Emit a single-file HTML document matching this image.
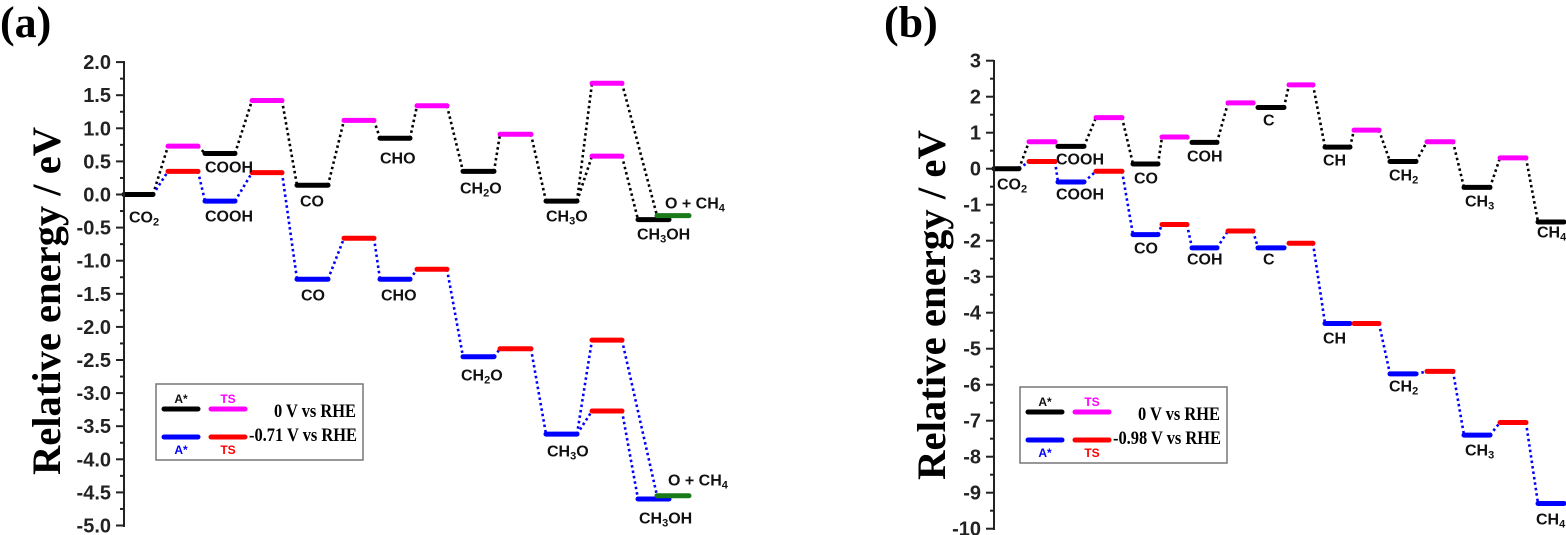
<!DOCTYPE html>
<html><head><meta charset="utf-8"><style>
html,body{margin:0;padding:0;background:#fff;width:1566px;height:535px;overflow:hidden}
svg{display:block}
.tk{font-family:"Liberation Sans",sans-serif;font-weight:bold;font-size:20px;fill:#222}
.lb{font-family:"Liberation Sans",sans-serif;font-weight:bold;font-size:16px;fill:#111}
.ser{font-family:"Liberation Serif",serif;font-weight:bold}
</style></head><body>
<svg id="s" width="1566" height="535" xmlns="http://www.w3.org/2000/svg"></svg>
<script>
const S=document.getElementById('s');let h='';
const ya=v=>194.5-66.2*v, yb=v=>168.7-36*v;
function bar(x1,x2,y,c){h+=`<line x1="${x1}" y1="${y}" x2="${x2}" y2="${y}" stroke="${c}" stroke-width="5" stroke-linecap="round"/>`;}
function dot(x1,y1,x2,y2,c){h+=`<line x1="${x1}" y1="${y1}" x2="${x2}" y2="${y2}" stroke="${c}" stroke-width="2.6" stroke-dasharray="2.5 3"/>`;}
function txt(x,y,t,cls,extra){h+=`<text x="${x}" y="${y}" class="${cls}" ${extra||''}>${t}</text>`;}
function lab(x,cy,t){h+=`<text x="${x}" y="${cy+5.5}" class="lb">${t}</text>`;}
function chain(arr,Y,lc){for(let i=0;i<arr.length-1;i++){dot(arr[i][1],Y(arr[i][2]),arr[i+1][0],Y(arr[i+1][2]),lc);}}
function drawBars(arr,Y){arr.forEach(a=>bar(a[0],a[1],Y(a[2]),a[3]));}
const K='#000',M='#ff00ff',B='#0000ff',R='#ff0000',G='#1a7a1a';
const ax=[[124,153],[168,198],[205,235],[252,282],[297,328],[344,374],[380,410],[417,447],[463,494],[500,531],[546,577]];
const bv=[0,.73,.62,1.42,.14,1.12,.85,1.34,.35,.91,-.1];
const rv=[0,.35,-.1,.33,-1.28,-.66,-1.28,-1.13,-2.45,-2.33,-3.62];
const A1=ax.map((x,i)=>[x[0],x[1],bv[i],i%2?M:K]);
const A2=ax.map((x,i)=>[x[0],x[1],rv[i],i%2?R:B]);
chain(A1,ya,K);chain(A2,ya,B);
dot(577,ya(-.1),592,ya(1.68),K);dot(577,ya(-.1),592,ya(.58),K);
dot(622,ya(1.68),657,ya(-.32),K);dot(622,ya(.58),638,ya(-.38),K);
dot(577,ya(-3.62),592,ya(-2.2),B);dot(577,ya(-3.62),592,ya(-3.27),B);
dot(622,ya(-2.2),657,ya(-4.55),B);dot(622,ya(-3.27),638,ya(-4.6),B);
drawBars(A1.slice(1),ya);drawBars(A2.slice(1),ya);bar(124,153,ya(0),K);
bar(592,622,ya(1.68),M);bar(592,622,ya(.58),M);bar(638,669,ya(-.38),K);bar(657,689,ya(-.32),G);
bar(592,622,ya(-2.2),R);bar(592,622,ya(-3.27),R);bar(638,669,ya(-4.6),B);bar(657,689,ya(-4.55),G);
h+=`<line x1="124" y1="61" x2="124" y2="527" stroke="#222" stroke-width="2"/>`;
for(let i=0;i<=28;i++){const v=2-i*0.25,y=ya(v);const maj=i%2==0;h+=`<line x1="${maj?116:120}" y1="${y}" x2="124" y2="${y}" stroke="#222" stroke-width="2"/>`;
 if(maj)txt(111,y+7,v.toFixed(1),'tk','text-anchor="end"');}
const sub=(a,n,rest)=>`${a}<tspan font-size="11" dy="3">${n}</tspan>`+(rest?`<tspan dy="-3">${rest}</tspan>`:'');
lab(129,217,sub('CO',2));lab(205,167,'COOH');lab(205,216,'COOH');lab(300,201,'CO');lab(380,158,'CHO');
lab(460,188,sub('CH',2,'O'));lab(546,216,sub('CH',3,'O'));
lab(637,234,sub('CH',3,'OH'));lab(665,203,sub('O + CH',4));
lab(301,295,'CO');lab(381,295,'CHO');lab(461,375,sub('CH',2,'O'));
lab(547,451,sub('CH',3,'O'));lab(668,480,sub('O + CH',4));
lab(639,518,sub('CH',3,'OH'));
const bx=[[994,1019],[1029,1055],[1058,1084],[1096,1122],[1133,1158],[1162,1187],[1192,1217],[1228,1253],[1258,1284],[1289,1313],[1325,1350],[1354,1379],[1390,1416],[1427,1453],[1464,1490],[1500,1526],[1538,1564]];
const kv=[0,.75,.62,1.42,.13,.88,.73,1.83,1.7,2.33,.6,1.07,.2,.75,-.52,.3,-1.48];
const bl=[0,.2,-.37,-.07,-1.83,-1.55,-2.2,-1.73,-2.2,-2.07,-4.3,-4.3,-5.7,-5.63,-7.4,-7.05,-9.3];
const B1=bx.map((x,i)=>[x[0],x[1],kv[i],i%2?M:K]);
const B2=bx.map((x,i)=>[x[0],x[1],bl[i],i%2?R:B]);
chain(B1,yb,K);chain(B2,yb,B);drawBars(B2.slice(1),yb);drawBars(B1,yb);
h+=`<line x1="994" y1="60" x2="994" y2="530" stroke="#222" stroke-width="2"/>`;
for(let i=0;i<=26;i++){const v=3-i*0.5,y=yb(v);const maj=i%2==0;h+=`<line x1="${maj?986:990}" y1="${y}" x2="994" y2="${y}" stroke="#222" stroke-width="2"/>`;
 if(maj)txt(981,y+7,String(v),'tk','text-anchor="end"');}
lab(997,184,sub('CO',2));lab(1056,159,'COOH');lab(1056,194,'COOH');lab(1134,178,'CO');lab(1187,156,'COH');lab(1263,120,'C');
lab(1134,248,'CO');lab(1187,259,'COH');lab(1263,259,'C');
lab(1323,160,'CH');lab(1389,175,sub('CH',2));lab(1465,201,sub('CH',3));lab(1537,232,sub('CH',4));
lab(1323,338,'CH');lab(1389,386,sub('CH',2));lab(1465,450,sub('CH',3));lab(1536,519,sub('CH',4));
function legend(x0,y0,txt1,txt2){
 h+=`<rect x="${x0}" y="${y0}" width="207" height="76" fill="#fff" stroke="#777" stroke-width="1.5"/>`;
 const l1=y0+25,l2=y0+53;
 bar(x0+8,x0+42,l1,K);bar(x0+55,x0+89,l1,M);bar(x0+8,x0+42,l2,B);bar(x0+55,x0+89,l2,R);
 h+=`<text x="${x0+25}" y="${l1-6}" class="lb" text-anchor="middle" style="font-size:12px">A*</text>`;
 h+=`<text x="${x0+72}" y="${l1-6}" class="lb" text-anchor="middle" style="font-size:12px;fill:#ff00ff">TS</text>`;
 h+=`<text x="${x0+25}" y="${l2+17}" class="lb" text-anchor="middle" style="font-size:12px;fill:#0000ff">A*</text>`;
 h+=`<text x="${x0+72}" y="${l2+17}" class="lb" text-anchor="middle" style="font-size:12px;fill:#ff0000">TS</text>`;
 h+=`<text x="${x0+118}" y="${l1+8}" class="ser" font-size="19" textLength="82" lengthAdjust="spacingAndGlyphs">${txt1}</text>`;
 h+=`<text x="${x0+93}" y="${l2+4}" class="ser" font-size="19" textLength="108" lengthAdjust="spacingAndGlyphs">${txt2}</text>`;
}
legend(156,384,'0 V vs RHE','-0.71 V vs RHE');
legend(1020,387,'0 V vs RHE','-0.98 V vs RHE');
h+=`<text x="0" y="37" class="ser" font-size="44">(a)</text>`;
h+=`<text x="884" y="37" class="ser" font-size="44">(b)</text>`;
h+=`<text transform="translate(60,301) rotate(-90)" class="ser" font-size="40" text-anchor="middle" textLength="348" lengthAdjust="spacingAndGlyphs">Relative energy / eV</text>`;
h+=`<text transform="translate(945,305) rotate(-90)" class="ser" font-size="40" text-anchor="middle" textLength="350" lengthAdjust="spacingAndGlyphs">Relative energy / eV</text>`;
S.innerHTML=h;
</script>
</body></html>
